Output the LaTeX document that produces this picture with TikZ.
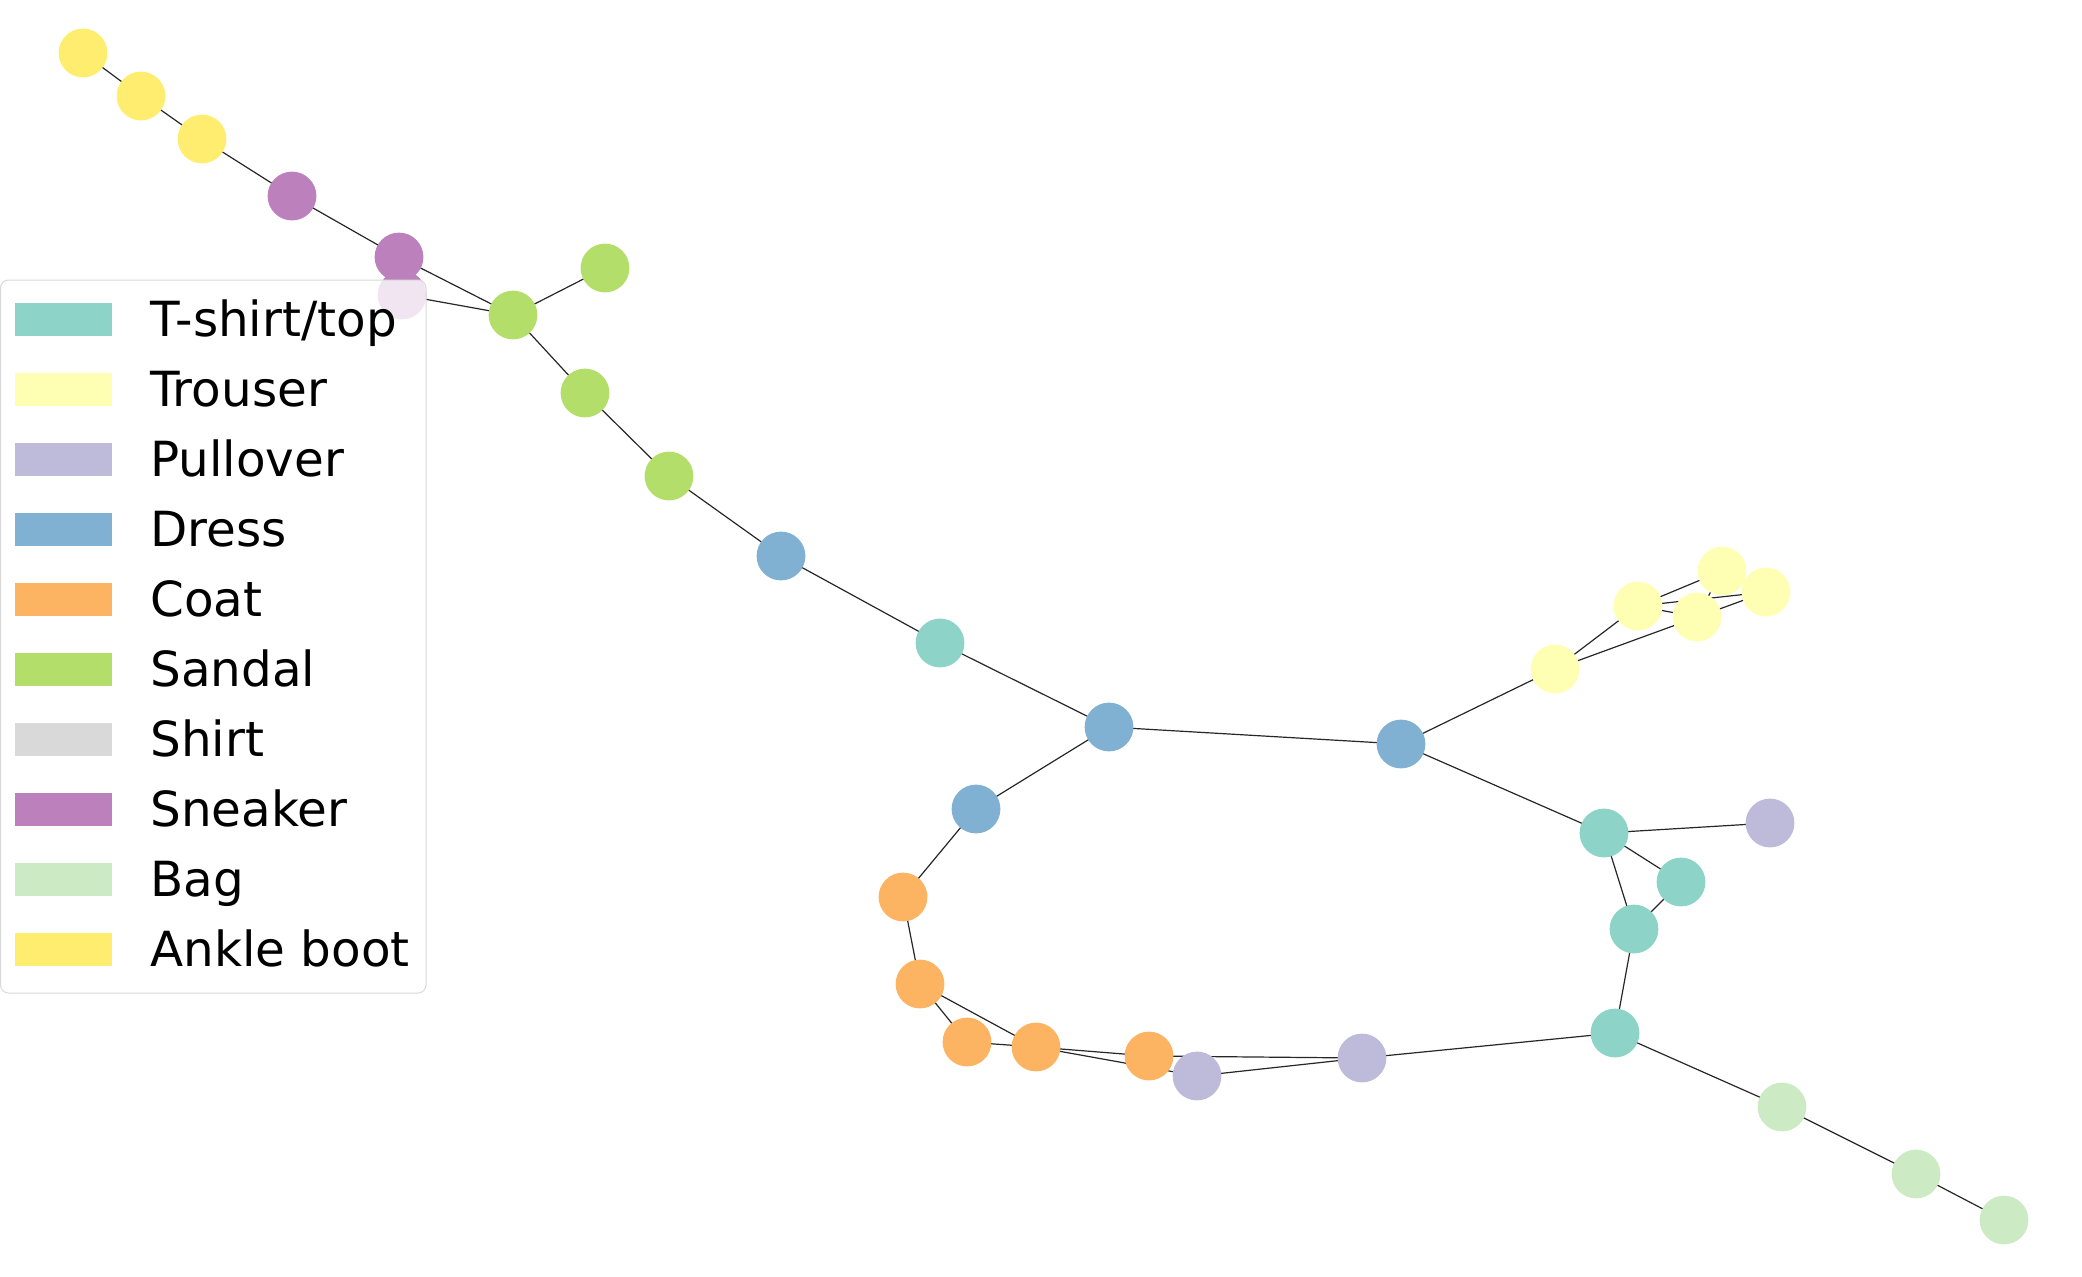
\documentclass[tikz,border=0pt]{standalone}
\usepackage{fontspec}
\setmainfont{DejaVu Sans}
\usetikzlibrary{backgrounds}
\definecolor{ctshirt}{HTML}{8DD3C7}
\definecolor{ctrouser}{HTML}{FFFFB3}
\definecolor{cpull}{HTML}{BEBADA}
\definecolor{cdress}{HTML}{80B1D3}
\definecolor{ccoat}{HTML}{FDB462}
\definecolor{csandal}{HTML}{B3DE69}
\definecolor{cshirt}{HTML}{D9D9D9}
\definecolor{csneak}{HTML}{BC80BD}
\definecolor{cbag}{HTML}{CCEBC5}
\definecolor{cboot}{HTML}{FFED6F}
\begin{document}
\begin{tikzpicture}[x=0.5pt,y=-0.5pt,
  vtx/.style={circle,inner sep=0pt,minimum size=24.4pt,draw=none},
  edge/.style={draw=black!85,line width=0.6pt},
  patch/.style={rectangle,inner sep=0pt,minimum width=48.5pt,minimum height=16.5pt,draw=none},
  ltext/.style={anchor=base west,inner sep=0pt,font=\fontsize{24.2}{28}\selectfont}]
\useasboundingbox (0,0) rectangle (2082,1276);
% nodes
\node[vtx,fill=csneak] (s3) at (402,295) {};
\node[vtx,fill=cboot] (a1) at (83,53) {};
\node[vtx,fill=cboot] (a2) at (141,96) {};
\node[vtx,fill=cboot] (a3) at (202,139) {};
\node[vtx,fill=csneak] (s1) at (292,196) {};
\node[vtx,fill=csneak] (s2) at (399,257) {};
\node[vtx,fill=csandal] (g1) at (513,315) {};
\node[vtx,fill=csandal] (g2) at (605,268) {};
\node[vtx,fill=csandal] (g3) at (585,393) {};
\node[vtx,fill=csandal] (g4) at (669,476) {};
\node[vtx,fill=cdress] (d1) at (781,556) {};
\node[vtx,fill=ctshirt] (t1) at (940,643) {};
\node[vtx,fill=cdress] (d2) at (1109,727) {};
\node[vtx,fill=cdress] (d3) at (1401,744) {};
\node[vtx,fill=cdress] (d4) at (976,809) {};
\node[vtx,fill=ccoat] (c1) at (903,897) {};
\node[vtx,fill=ccoat] (c2) at (920,984) {};
\node[vtx,fill=ccoat] (c3) at (967,1042) {};
\node[vtx,fill=ccoat] (c4) at (1036,1047) {};
\node[vtx,fill=ccoat] (c5) at (1149,1056) {};
\node[vtx,fill=cpull] (p1) at (1197,1076) {};
\node[vtx,fill=cpull] (p2) at (1362,1058) {};
\node[vtx,fill=ctshirt] (t2) at (1604,833) {};
\node[vtx,fill=ctshirt] (t3) at (1681,882) {};
\node[vtx,fill=ctshirt] (t4) at (1634,929) {};
\node[vtx,fill=ctshirt] (t5) at (1615,1033) {};
\node[vtx,fill=cpull] (p3) at (1770,823) {};
\node[vtx,fill=cbag] (b1) at (1782,1107) {};
\node[vtx,fill=cbag] (b2) at (1916,1174) {};
\node[vtx,fill=cbag] (b3) at (2004,1220) {};
\node[vtx,fill=ctrouser] (r1) at (1555,669) {};
\node[vtx,fill=ctrouser] (r2) at (1638,606) {};
\node[vtx,fill=ctrouser] (r3) at (1722,571) {};
\node[vtx,fill=ctrouser] (r4) at (1697,617) {};
\node[vtx,fill=ctrouser] (r5) at (1766,592) {};
% edges
\begin{pgfonlayer}{background}
\foreach \u/\v in {a1/a2,a2/a3,a3/s1,s1/s2,s2/g1,s3/g1,g1/g2,g1/g3,g3/g4,g4/d1,d1/t1,t1/d2,d2/d3,d2/d4,d4/c1,c1/c2,c2/c3,c2/c4,c3/c4,c4/c5,c4/p1,c5/p2,p1/p2,p2/t5,t5/t4,t4/t2,t4/t3,t2/t3,t2/p3,d3/t2,t5/b1,b1/b2,b2/b3,d3/r1,r1/r2,r1/r5,r2/r3,r2/r4,r2/r5,r3/r4,r3/r5}
  \draw[edge] (\u.center) -- (\v.center);
\end{pgfonlayer}
% legend
\draw[draw=black!15,fill=white,fill opacity=0.8,line width=0.5pt,rounded corners=4pt] (0.5,280) rectangle (426,993);
\foreach \c/\t [count=\i from 0] in {ctshirt/T-shirt\slash top,ctrouser/Trouser,cpull/Pullover,cdress/Dress,ccoat/Coat,csandal/Sandal,cshirt/Shirt,csneak/Sneaker,cbag/Bag,cboot/Ankle boot}{
  \node[patch,fill=\c] (lp\i) at (63.5,{319+70*\i}) {};
  \node[ltext] (lt\i) at (150,{336.5+70*\i}) {\t};
}
\end{tikzpicture}
\end{document}
